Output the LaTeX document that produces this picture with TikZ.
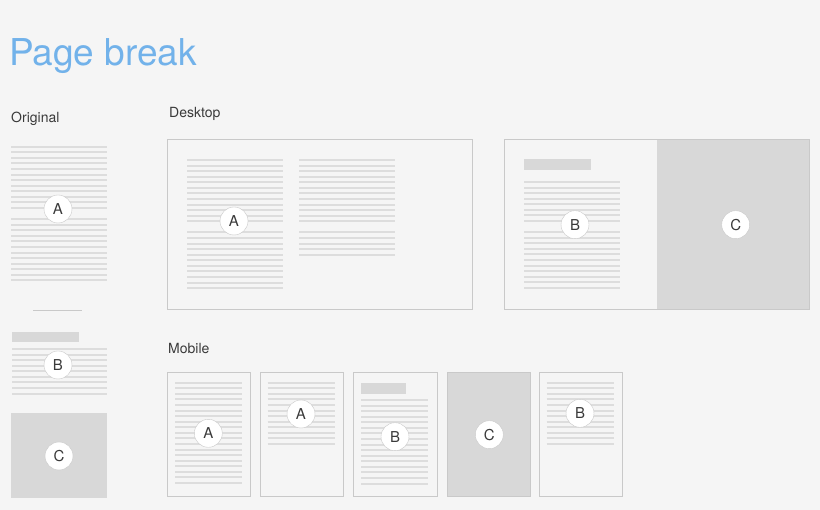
\documentclass[tikz,border=0pt]{standalone}
\usepackage{fontspec}
\setmainfont{TeX Gyre Heros}
\usepackage{xcolor}
\usetikzlibrary{positioning}
\definecolor{canvas}{HTML}{F5F5F5}
\definecolor{edgegray}{HTML}{C9C9C9}
\definecolor{linegray}{HTML}{DDDDDD}
\definecolor{blockgray}{HTML}{D8D8D8}
\definecolor{inkgray}{HTML}{3A3A3A}
\definecolor{titleblue}{HTML}{72B2EA}
\tikzset{
    page-box/.style = {draw=edgegray, line width=1pt, fill=canvas, rectangle, anchor=north west, inner sep=0pt, outer sep=0pt},
    mobile-page/.style = {page-box, minimum width=83.4pt, minimum height=124.2pt},
    text-line/.style = {draw=linegray, line width=2pt},
    head-bar/.style = {fill=blockgray, draw=none},
    badge/.style = {circle, draw=edgegray, fill=white, minimum size=28pt, inner sep=0pt, text=inkgray, font=\fontsize{15}{15}\selectfont},
    section-label/.style = {anchor=base west, inner sep=0pt, text=inkgray, font=\fontsize{14}{16}\selectfont},
}
% n grey lines from x #1 to #2, first one at y #3
\newcommand{\textlines}[4]{%
  \foreach \i in {1,...,#4}
    \draw[text-line] (#1,{#3+(\i-1)*5.57}) -- (#2,{#3+(\i-1)*5.57});
}

\begin{document}
\begin{tikzpicture}[x=1pt, y=-1pt]
\fill[canvas] (0,0) rectangle (820,510);
\useasboundingbox (0,0) rectangle (820,510);

\node[anchor=base west, inner sep=0pt, text=titleblue, font=\fontsize{37}{40}\selectfont] (title) at (9,65.5) {Page break};

% original
\node[section-label] (orig-label) at (11,123) {Original};
\textlines{11}{107}{146.7}{12}
\textlines{11}{107}{219.1}{12}
\node[badge] (orig-a) at (58,209) {A};
\coordinate (sep-l) at (33,310.7);
\coordinate (sep-r) at (82,310.7);
\draw[edgegray, line width=1pt] (sep-l) -- (sep-r);
\fill[head-bar] (12,331.7) rectangle (79,342.3);
\textlines{12}{107}{349}{9}
\node[badge] (orig-b) at (58,365) {B};
\fill[blockgray] (11,413) rectangle (107,498);
\node[badge] (orig-c) at (59,456) {C};

% desktop
\node[section-label] (desk-label) at (169,118) {Desktop};
\node[page-box, minimum width=304.7pt, minimum height=170pt] (desk-1) at (167.3,139.3) {};
\textlines{187}{283}{160}{12}
\textlines{187}{283}{232.4}{11}
\textlines{299}{395}{160}{12}
\textlines{299}{395}{232.4}{5}
\node[badge] (desk-a) at (234,221) {A};

\node[page-box, minimum width=304.7pt, minimum height=170pt] (desk-2) at (504.3,139.3) {};
\fill[blockgray] (657.3,139.3) rectangle (desk-2.south east);
\draw[edgegray, line width=1pt] (desk-2.north west) rectangle (desk-2.south east);
\fill[head-bar] (524.3,159.3) rectangle (591.3,169.7);
\textlines{524}{620}{182}{8}
\textlines{524}{620}{232.1}{11}
\node[badge] (desk-b) at (575,224.7) {B};
\node[badge] (desk-c) at (735.7,224.7) {C};

% mobile
\node[section-label] (mob-label) at (168,354) {Mobile};
\node[mobile-page] (mob-1) at (167.3,372.3) {};
\node[mobile-page, right=9.3pt of mob-1] (mob-2) {};
\node[mobile-page, right=10.3pt of mob-2] (mob-3) {};
\node[mobile-page, right=10.2pt of mob-3, fill=blockgray] (mob-4) {};
\node[mobile-page, right=8.3pt of mob-4] (mob-5) {};
\textlines{175}{241.7}{382.7}{19}
\node[badge] (mob-a1) at (208.3,433.3) {A};
\textlines{267.7}{334.7}{382.7}{12}
\node[badge] (mob-a2) at (301,414) {A};
\fill[head-bar] (361.3,382.7) rectangle (406,393.7);
\textlines{361.3}{428.3}{400}{16}
\node[badge] (mob-b1) at (395,436.7) {B};
\node[badge] (mob-c) at (489.3,434.7) {C};
\textlines{546.7}{613.7}{382.7}{12}
\node[badge] (mob-b2) at (580,413.3) {B};
\end{tikzpicture}
\end{document}
